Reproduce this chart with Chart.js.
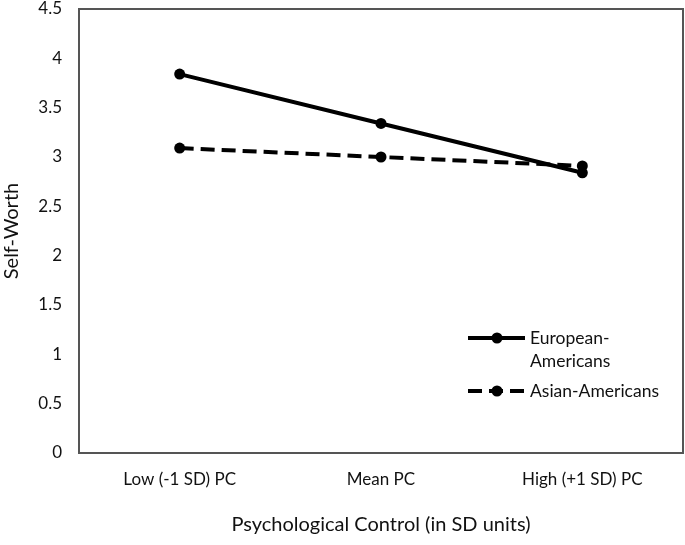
<!DOCTYPE html>
<html>
<head>
<meta charset="utf-8">
<script src="https://cdn.jsdelivr.net/npm/chart.js@4.4.1/dist/chart.umd.min.js"></script>
<style>
  html, body { margin: 0; padding: 0; background: #fff; }
  #wrap { width: 685px; height: 545px; }
</style>
</head>
<body>
<div id="wrap"><canvas id="myChart" width="685" height="545"></canvas></div>
<script>
const categories = ['Low (-1 SD) PC', 'Mean PC', 'High (+1 SD) PC'];
const europeanAmericans = [3.84, 3.34, 2.84];
const asianAmericans = [3.09, 3.00, 2.91];
const seriesNames = [['European-', 'Americans'], ['Asian-Americans']];

const FONT = 'Lato, "Open Sans", sans-serif';

// box round the plot area
const frame = {
    id: 'frame',
    afterDraw(chart) {
        const a = chart.chartArea;
        const ctx = chart.ctx;
        ctx.save();
        ctx.strokeStyle = '#555';
        ctx.lineWidth = 2;
        ctx.strokeRect(a.left, a.top, a.right - a.left, a.bottom - a.top);
        ctx.restore();
    }
};

// legend inside plot, lower right
const insideLegend = {
    id: 'insideLegend',
    afterDraw(chart) {
        const ctx = chart.ctx;
        const x0 = 468, x1 = 525, tx = 530;
        const rows = [338, 391];
        ctx.save();
        chart.data.datasets.forEach((ds, i) => {
            const y = rows[i];
            ctx.strokeStyle = '#000';
            ctx.lineWidth = 4;
            ctx.setLineDash(ds.borderDash ? [14, 7] : []);
            ctx.beginPath();
            ctx.moveTo(x0, y);
            ctx.lineTo(x1, y);
            ctx.stroke();
            ctx.setLineDash([]);
            ctx.fillStyle = '#000';
            ctx.beginPath();
            ctx.arc(497, y, 5.5, 0, Math.PI * 2);
            ctx.fill();
            ctx.font = '17.5px ' + FONT;
            ctx.fillStyle = '#111';
            ctx.textBaseline = 'middle';
            seriesNames[i].forEach((t, j) => ctx.fillText(t, tx, y + j * 23));
        });
        ctx.restore();
    }
};

new Chart(document.getElementById('myChart'), {
    type: 'line',
    data: {
        labels: categories,
        datasets: [
            {
                label: 'European-Americans',
                data: europeanAmericans,
                borderColor: '#000',
                backgroundColor: '#000',
                borderWidth: 4,
                pointRadius: 5.5,
                pointBackgroundColor: '#000',
                pointBorderWidth: 0,
                tension: 0
            },
            {
                label: 'Asian-Americans',
                data: asianAmericans,
                borderColor: '#000',
                backgroundColor: '#000',
                borderWidth: 4,
                borderDash: [14, 7],
                pointRadius: 5.5,
                pointBackgroundColor: '#000',
                pointBorderWidth: 0,
                tension: 0
            }
        ]
    },
    options: {
        responsive: false,
        animation: false,
        layout: { autoPadding: false, padding: { top: 9, right: 2, left: 0, bottom: 0 } },
        plugins: {
            legend: { display: false },
            tooltip: { enabled: false }
        },
        scales: {
            x: {
                offset: true,
                grid: { display: false, drawTicks: false },
                border: { display: false },
                ticks: { color: '#111', font: { family: FONT, size: 17 }, padding: 16 },
                title: {
                    display: true,
                    text: 'Psychological Control (in SD units)',
                    color: '#111',
                    font: { family: FONT, size: 20 },
                    padding: { top: 0, bottom: 8 }
                },
                afterFit: (s) => {
                    s.height = 92;
                    s.paddingLeft = 0;
                    s.paddingRight = 0;
                }
            },
            y: {
                min: 0,
                max: 4.5,
                grid: { display: false, drawTicks: false },
                border: { display: false },
                ticks: {
                    stepSize: 0.5,
                    color: '#111',
                    font: { family: FONT, size: 17 },
                    padding: 17,
                    callback: (v) => String(v)
                },
                title: {
                    display: true,
                    text: 'Self-Worth',
                    color: '#111',
                    font: { family: FONT, size: 20 },
                    padding: { top: 0, bottom: 0 }
                },
                afterFit: (s) => {
                    s.width = 79;
                    s.paddingTop = 0;
                    s.paddingBottom = 0;
                }
            }
        }
    },
    plugins: [frame, insideLegend]
});
</script>
</body>
</html>
